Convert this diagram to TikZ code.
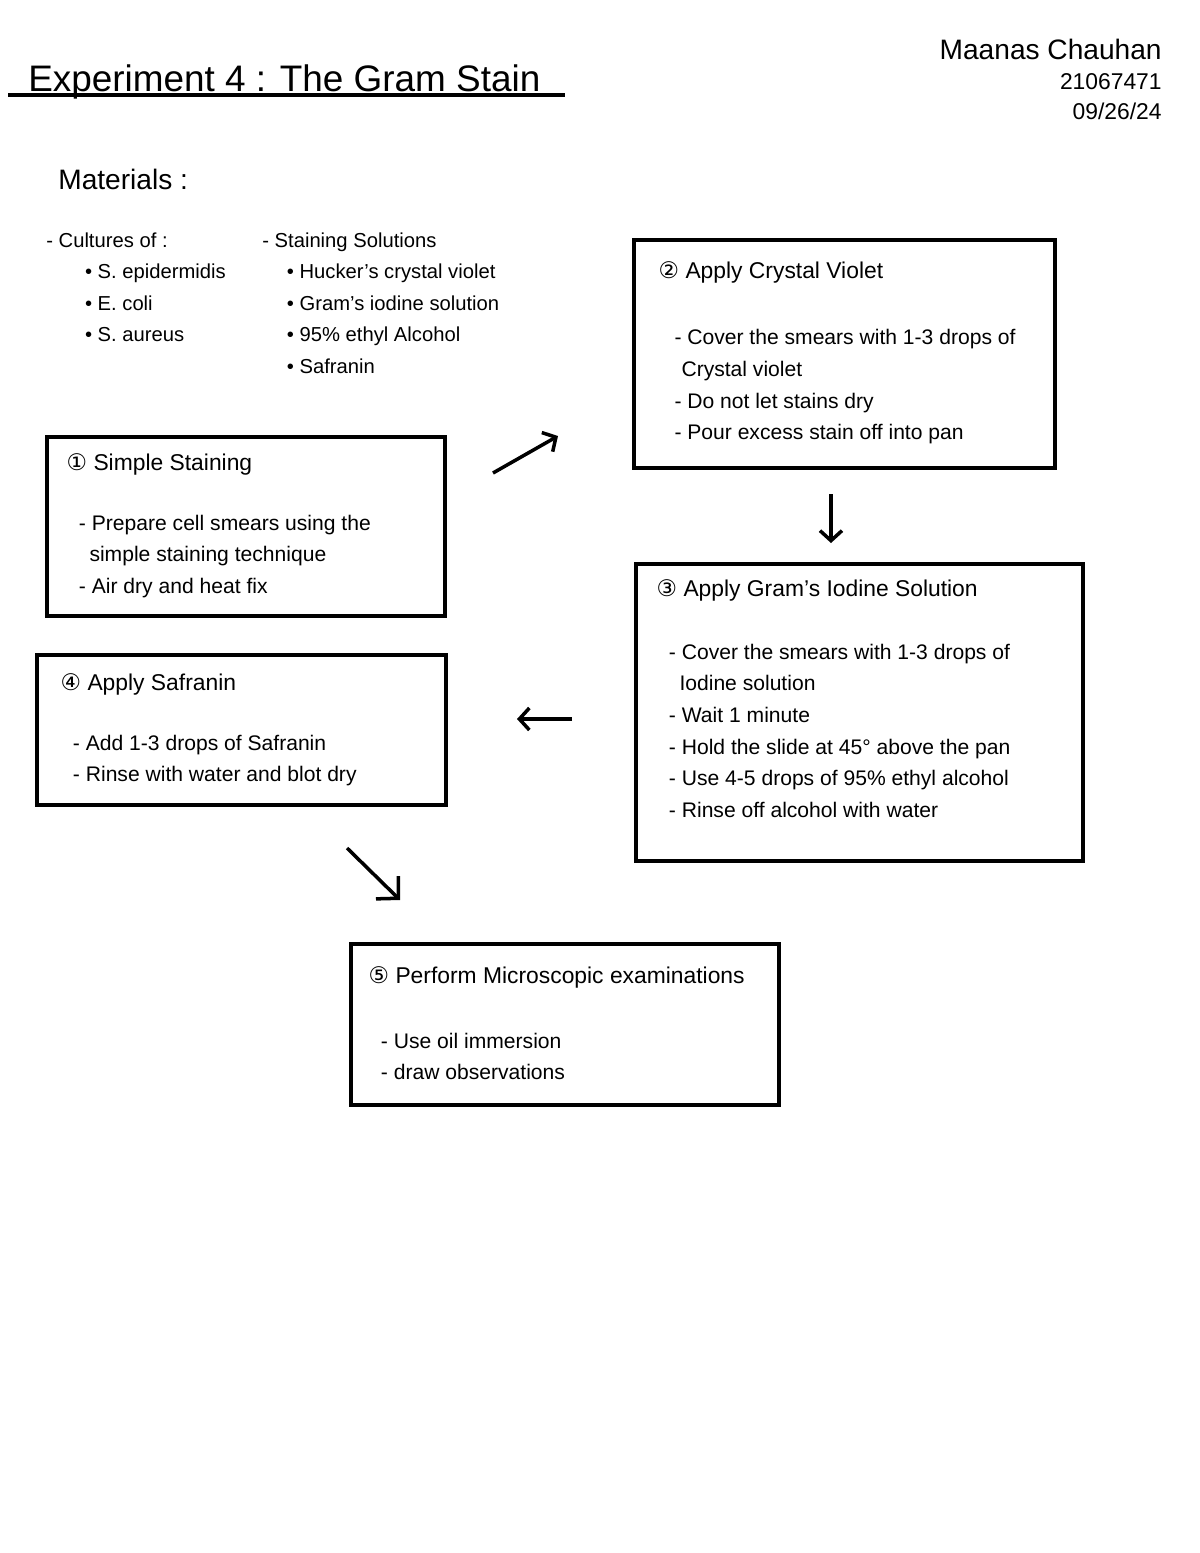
\documentclass[tikz,border=0pt]{standalone}
\usepackage{fontspec}
\setmainfont{Liberation Sans}
\newfontfamily\circfont{DejaVu Sans}
\usepackage{tikz}
\usetikzlibrary{arrows.meta,positioning}
\newcommand{\steptitle}[2]{{\fontsize{13}{18}\selectfont{\circfont #1} #2}}
\newcommand{\ind}{\hspace*{7pt}}

\begin{document}
\begin{tikzpicture}[
    x=0.2mm, y=-0.2mm,
    box/.style={rectangle, draw, line width=1.9pt, inner sep=0pt},
    steptext/.style={align=left, inner sep=0pt, font=\fontsize{12}{18}\selectfont},
    listtext/.style={anchor=north west, align=left, inner sep=0pt, font=\fontsize{11.5}{18}\selectfont},
    arrow/.style={-{Straight Barb[length=2mm,width=4.4mm]}, line width=2pt},
    bigarrow/.style={-{Straight Barb[length=3.1mm,width=6.4mm]}, line width=2pt}
]
    \useasboundingbox (0,0) rectangle (1200,1553);

    \node[anchor=base west, inner sep=0pt, font=\fontsize{21}{25}\selectfont] (title) at (28,91) {Experiment 4 : The Gram Stain};
    \draw[line width=1.9pt] (8,95) -- (565,95);
    \node[anchor=north east, align=right, inner sep=0pt, font=\fontsize{13}{17}\selectfont] (author) at (1162,39)
        {{\fontsize{16}{17}\selectfont Maanas Chauhan}\\21067471\\09/26/24};

    \node[anchor=west, inner sep=0pt, font=\fontsize{16}{20}\selectfont] (materials) at (58,179) {Materials :};
    \node[listtext] (cultures) at (46,232)
        {- Cultures of :\\
         \hspace*{22pt}\textbullet\ S. epidermidis\\
         \hspace*{22pt}\textbullet\ E. coli\\
         \hspace*{22pt}\textbullet\ S. aureus};
    \node[listtext] (solutions) at (262,232)
        {- Staining Solutions\\
         \hspace*{14pt}\textbullet\ Hucker's crystal violet\\
         \hspace*{14pt}\textbullet\ Gram's iodine solution\\
         \hspace*{14pt}\textbullet\ 95\% ethyl Alcohol\\
         \hspace*{14pt}\textbullet\ Safranin};

    \node[box, minimum width=84.2mm, minimum height=45.6mm] (crystal) at (844.5,354) {};
    \node[box, minimum width=79.6mm, minimum height=35.8mm] (simple) at (246,526.5) {};
    \node[box, minimum width=89.4mm, minimum height=59.4mm] (iodine) at (859.5,712.5) {};
    \node[box, minimum width=81.8mm, minimum height=30mm] (safranin) at (241.5,730) {};
    \node[box, minimum width=85.6mm, minimum height=32.2mm] (micro) at (565,1024.5) {};

    \node[steptext, below right=3.6mm and 4.2mm of simple.north west] (simpletext)
        {\steptitle{①}{Simple Staining}\\[16pt]
         \ind- Prepare cell smears using the\\
         \ind\hspace*{6pt}simple staining technique\\
         \ind- Air dry and heat fix};
    \node[steptext, below right=4.5mm and 5.2mm of crystal.north west] (crystaltext)
        {\steptitle{②}{Apply Crystal Violet}\\[20pt]
         \ind\hspace*{2pt}- Cover the smears with 1-3 drops of\\
         \ind\hspace*{6pt}Crystal violet\\
         \ind\hspace*{2pt}- Do not let stains dry\\
         \ind\hspace*{2pt}- Pour excess stain off into pan};
    \node[steptext, below right=3.3mm and 4.4mm of iodine.north west] (iodinetext)
        {\steptitle{③}{Apply Gram's Iodine Solution}\\[18pt]
         \ind- Cover the smears with 1-3 drops of\\
         \ind\hspace*{6pt}Iodine solution\\
         \ind- Wait 1 minute\\
         \ind- Hold the slide at 45° above the pan\\
         \ind- Use 4-5 drops of 95\% ethyl alcohol\\
         \ind- Rinse off alcohol with water};
    \node[steptext, below right=4mm and 5mm of safranin.north west] (safranintext)
        {\steptitle{④}{Apply Safranin}\\[16pt]
         \ind- Add 1-3 drops of Safranin\\
         \ind- Rinse with water and blot dry};
    \node[steptext, below right=4.7mm and 3.8mm of micro.north west] (microtext)
        {\steptitle{⑤}{Perform Microscopic examinations}\\[19pt]
         \ind- Use oil immersion\\
         \ind- draw observations};

    \coordinate (a1) at (493,473);
    \coordinate (b1) at (558,436);
    \coordinate (a2) at (831,494);
    \coordinate (b2) at (831,543);
    \coordinate (a3) at (572,719);
    \coordinate (b3) at (517,719);
    \coordinate (a4) at (347,848);
    \coordinate (b4) at (400,900);

    \draw[arrow] (a1) -- (b1);
    \draw[arrow] (a2) -- (b2);
    \draw[arrow] (a3) -- (b3);
    \draw[bigarrow] (a4) -- (b4);
\end{tikzpicture}
\end{document}
